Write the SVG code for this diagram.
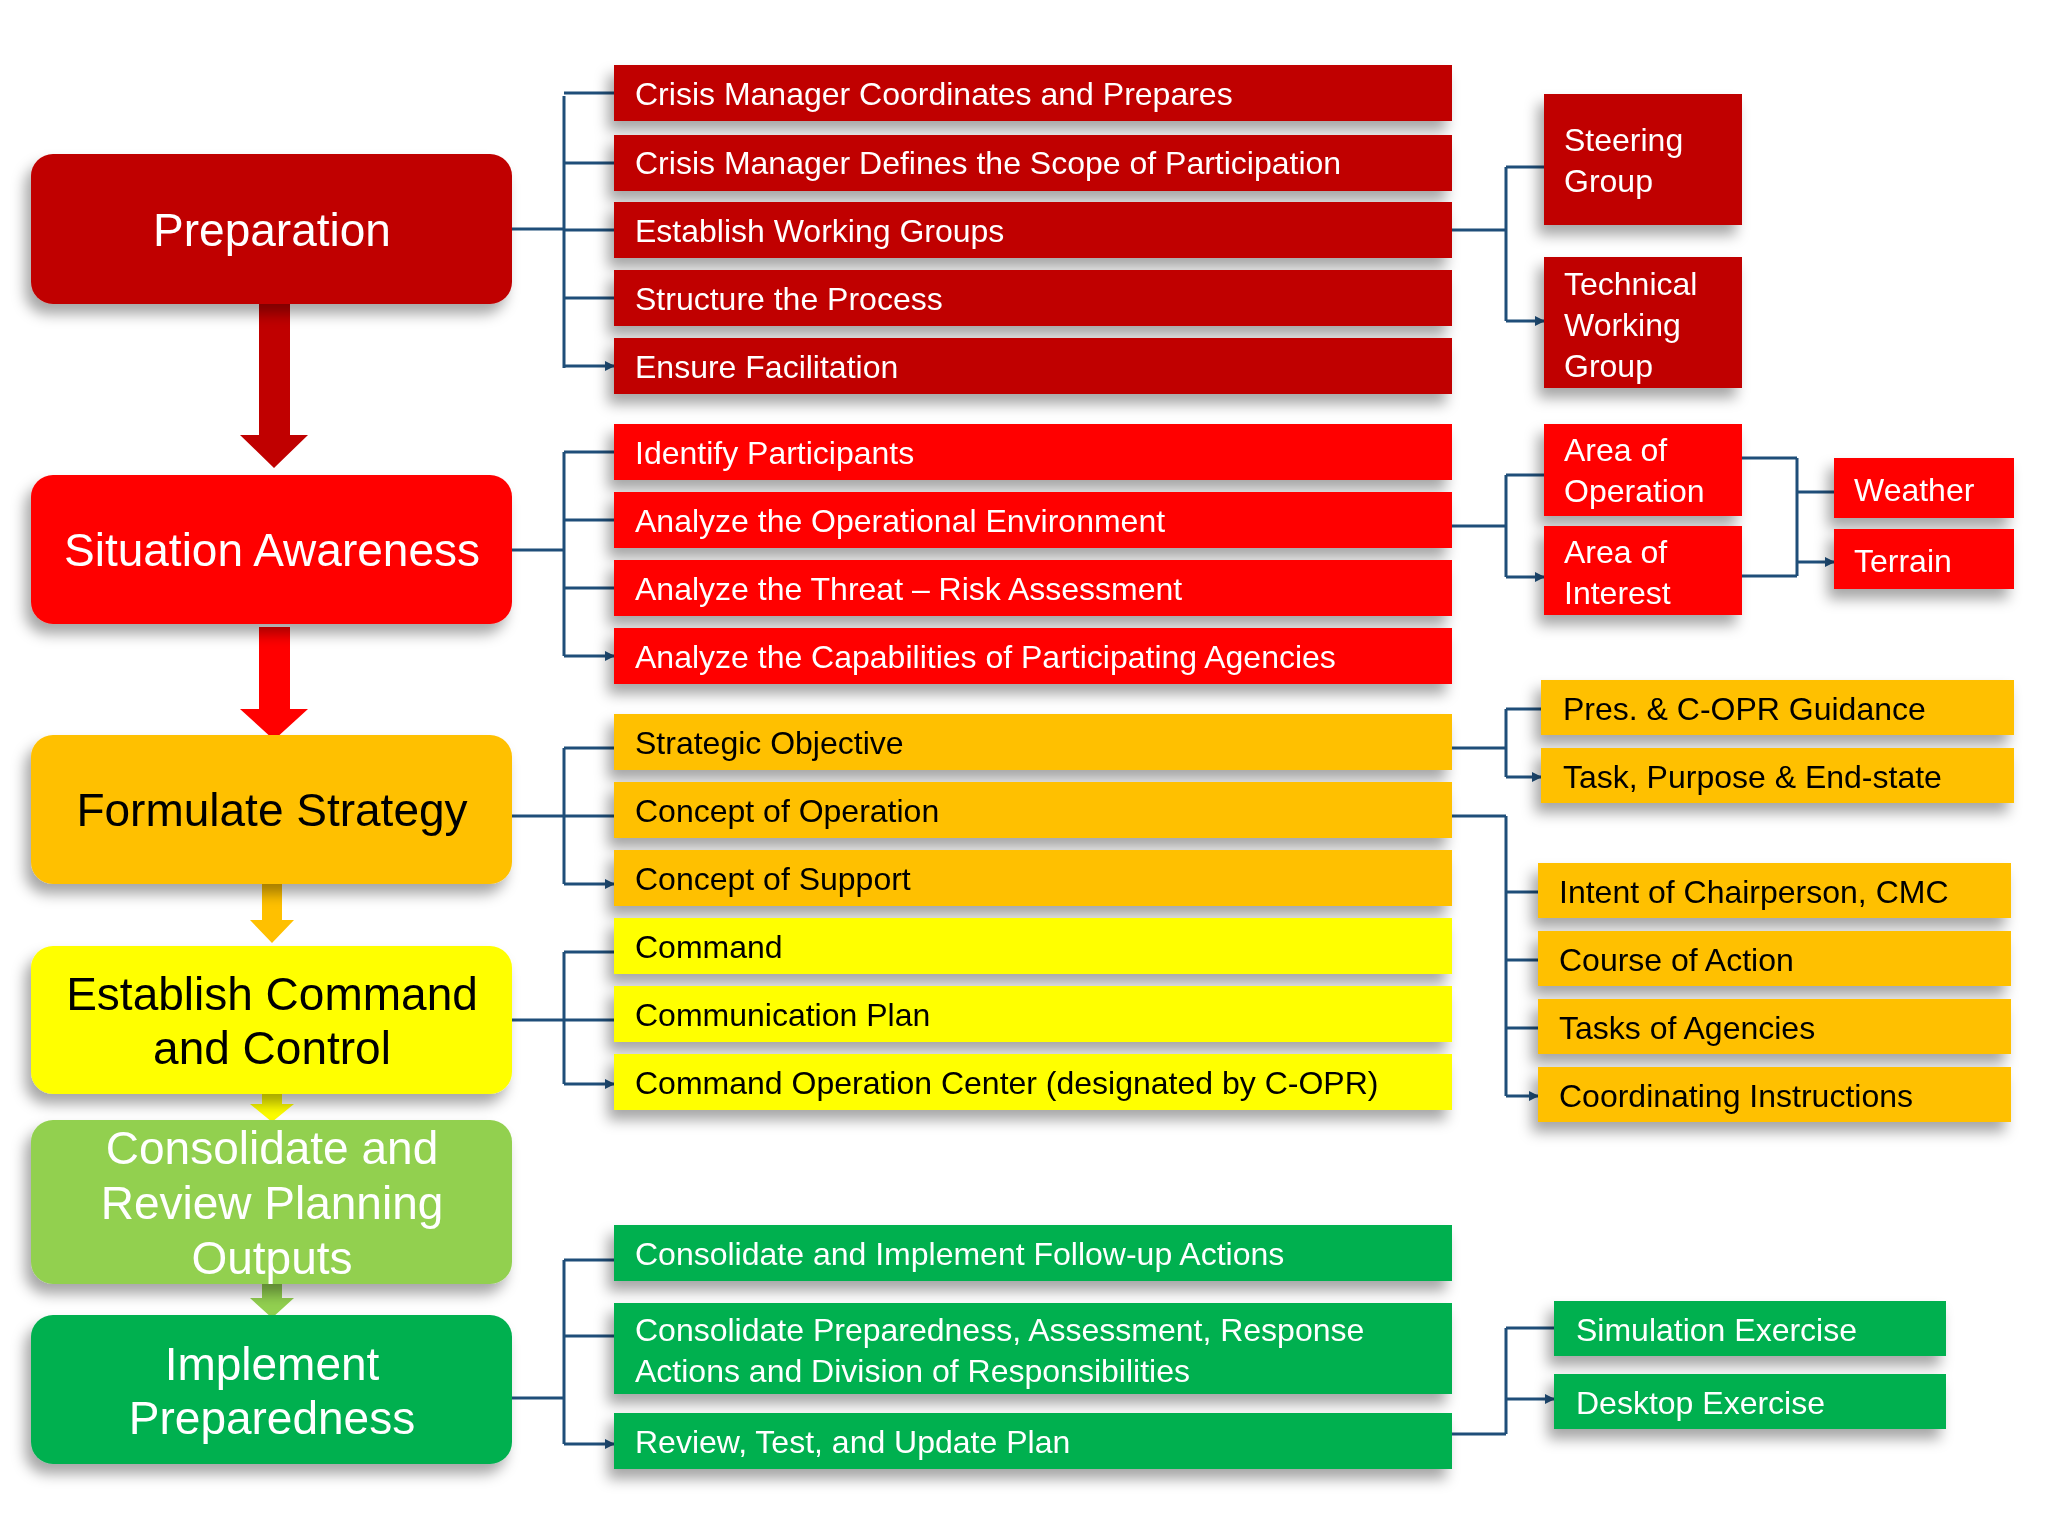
<svg xmlns="http://www.w3.org/2000/svg" width="2048" height="1536" viewBox="0 0 2048 1536">
<defs>
<filter id="sh" x="-10%" y="-20%" width="130%" height="160%"><feDropShadow dx="-6" dy="10" stdDeviation="7" flood-color="#000" flood-opacity="0.35"/></filter>
<marker id="ar" markerWidth="10" markerHeight="10" refX="9" refY="5" orient="auto" markerUnits="userSpaceOnUse"><path d="M0,0 L10,5 L0,10 z" fill="#1f4e79"/></marker>
</defs>
<style>
.t{font-family:"Liberation Sans",Arial,sans-serif;font-size:32px}
.m{font-family:"Liberation Sans",Arial,sans-serif;font-size:46px;text-anchor:middle}
.w{fill:#fff}.k{fill:#000}
.dr{fill:#C00000}.rd{fill:#FF0000}.or{fill:#FFC000}.ye{fill:#FFFF00}.lg{fill:#92D050}.gr{fill:#00B050}
.c{fill:none;stroke:#1f4e79;stroke-width:3}
.a{fill:none;stroke:#1f4e79;stroke-width:3;marker-end:url(#ar)}
</style>
<rect width="2048" height="1536" fill="#fff"/>
<g id="downarrows">
<polygon class="dr" points="259,304 290,304 290,435 308,435 274,468 240,435 259,435"/>
<polygon class="rd" points="259,627 290,627 290,709 308,709 274,740 240,709 259,709"/>
<polygon class="or" points="262,884 282,884 282,920 294,920 272,943 250,920 262,920"/>
<polygon class="ye" points="262,1094 282,1094 282,1104 294,1104 272,1122 250,1104 262,1104"/>
<polygon class="lg" points="262,1284 282,1284 282,1298 294,1298 272,1318 250,1298 262,1298"/>
</g>
<g id="connectors">
<path class="c" d="M512,229 H564 M564,96 V368"/>
<path class="a" d="M564,93 H614 M564,163 H614 M564,230 H614 M564,298 H614 M564,366 H614"/>
<path class="c" d="M512,550 H564 M564,452 V656"/>
<path class="a" d="M564,452 H614 M564,520 H614 M564,588 H614 M564,656 H614"/>
<path class="c" d="M512,816 H564 M564,748 V884"/>
<path class="a" d="M564,748 H614 M564,816 H614 M564,884 H614"/>
<path class="c" d="M512,1020 H564 M564,952 V1084"/>
<path class="a" d="M564,952 H614 M564,1020 H614 M564,1084 H614"/>
<path class="c" d="M512,1398 H564 M564,1260 V1444"/>
<path class="a" d="M564,1260 H614 M564,1336 H614 M564,1444 H614"/>
<path class="c" d="M1452,230 H1506 M1506,167 V321"/>
<path class="a" d="M1506,167 H1544 M1506,321 H1544"/>
<path class="c" d="M1452,526 H1506 M1506,475 V577"/>
<path class="a" d="M1506,475 H1544 M1506,577 H1544"/>
<path class="c" d="M1742,458 H1797 M1742,576 H1797 M1797,458 V576"/>
<path class="a" d="M1797,492 H1834 M1797,562 H1834"/>
<path class="c" d="M1452,748 H1506 M1506,709 V777"/>
<path class="a" d="M1506,709 H1541 M1506,777 H1541"/>
<path class="c" d="M1452,816 H1506 M1506,816 V1096"/>
<path class="a" d="M1506,892 H1538 M1506,960 H1538 M1506,1028 H1538 M1506,1096 H1538"/>
<path class="c" d="M1452,1434 H1506 M1506,1328 V1434"/>
<path class="a" d="M1506,1328 H1554 M1506,1399 H1554"/>
</g>
<g id="n-prep" filter="url(#sh)"><rect class="dr" x="31" y="154" width="481" height="150" rx="22"/><text class="m w" x="272" y="246">Preparation</text></g>
<g id="n-sit" filter="url(#sh)"><rect class="rd" x="31" y="475" width="481" height="149" rx="22"/><text class="m w" x="272" y="566">Situation Awareness</text></g>
<g id="n-form" filter="url(#sh)"><rect class="or" x="31" y="735" width="481" height="149" rx="22"/><text class="m k" x="272" y="826">Formulate Strategy</text></g>
<g id="n-est" filter="url(#sh)"><rect class="ye" x="31" y="946" width="481" height="148" rx="22"/><text class="m k" x="272" y="1010">Establish Command</text><text class="m k" x="272" y="1064">and Control</text></g>
<g id="n-cons" filter="url(#sh)"><rect class="lg" x="31" y="1120" width="481" height="164" rx="22"/><text class="m w" x="272" y="1164">Consolidate and</text><text class="m w" x="272" y="1219">Review Planning</text><text class="m w" x="272" y="1274">Outputs</text></g>
<g id="n-impl" filter="url(#sh)"><rect class="gr" x="31" y="1315" width="481" height="149" rx="22"/><text class="m w" x="272" y="1380">Implement</text><text class="m w" x="272" y="1434">Preparedness</text></g>
<g filter="url(#sh)">
<g id="b1"><rect class="dr" x="614" y="65" width="838" height="56"/><text class="t w" x="635" y="105">Crisis Manager  Coordinates and Prepares</text></g>
<g id="b2"><rect class="dr" x="614" y="135" width="838" height="56"/><text class="t w" x="635" y="174">Crisis Manager  Defines the Scope of Participation</text></g>
<g id="b3"><rect class="dr" x="614" y="202" width="838" height="56"/><text class="t w" x="635" y="242">Establish Working Groups</text></g>
<g id="b4"><rect class="dr" x="614" y="270" width="838" height="56"/><text class="t w" x="635" y="310">Structure the Process</text></g>
<g id="b5"><rect class="dr" x="614" y="338" width="838" height="56"/><text class="t w" x="635" y="378">Ensure Facilitation</text></g>
<g id="b6"><rect class="rd" x="614" y="424" width="838" height="56"/><text class="t w" x="635" y="464">Identify Participants</text></g>
<g id="b7"><rect class="rd" x="614" y="492" width="838" height="56"/><text class="t w" x="635" y="532">Analyze the Operational Environment</text></g>
<g id="b8"><rect class="rd" x="614" y="560" width="838" height="56"/><text class="t w" x="635" y="600">Analyze the Threat – Risk Assessment</text></g>
<g id="b9"><rect class="rd" x="614" y="628" width="838" height="56"/><text class="t w" x="635" y="668">Analyze the Capabilities of Participating Agencies</text></g>
<g id="b10"><rect class="or" x="614" y="714" width="838" height="56"/><text class="t k" x="635" y="754">Strategic Objective</text></g>
<g id="b11"><rect class="or" x="614" y="782" width="838" height="56"/><text class="t k" x="635" y="822">Concept of Operation</text></g>
<g id="b12"><rect class="or" x="614" y="850" width="838" height="56"/><text class="t k" x="635" y="890">Concept of Support</text></g>
<g id="b13"><rect class="ye" x="614" y="918" width="838" height="56"/><text class="t k" x="635" y="958">Command</text></g>
<g id="b14"><rect class="ye" x="614" y="986" width="838" height="56"/><text class="t k" x="635" y="1026">Communication Plan</text></g>
<g id="b15"><rect class="ye" x="614" y="1054" width="838" height="56"/><text class="t k" x="635" y="1094">Command Operation Center (designated by C-OPR)</text></g>
<g id="b16"><rect class="gr" x="614" y="1225" width="838" height="56"/><text class="t w" x="635" y="1265">Consolidate and Implement Follow-up Actions</text></g>
<g id="b17"><rect class="gr" x="614" y="1303" width="838" height="91"/><text class="t w" x="635" y="1341">Consolidate Preparedness, Assessment, Response</text><text class="t w" x="635" y="1382">Actions and Division of Responsibilities</text></g>
<g id="b18"><rect class="gr" x="614" y="1413" width="838" height="56"/><text class="t w" x="635" y="1453">Review, Test, and Update Plan</text></g>
<g id="r1"><rect class="dr" x="1544" y="94" width="198" height="131"/><text class="t w" x="1564" y="151">Steering</text><text class="t w" x="1564" y="192">Group</text></g>
<g id="r2"><rect class="dr" x="1544" y="257" width="198" height="131"/><text class="t w" x="1564" y="295">Technical</text><text class="t w" x="1564" y="336">Working</text><text class="t w" x="1564" y="377">Group</text></g>
<g id="r3"><rect class="rd" x="1544" y="424" width="198" height="92"/><text class="t w" x="1564" y="461">Area of</text><text class="t w" x="1564" y="502">Operation</text></g>
<g id="r4"><rect class="rd" x="1544" y="526" width="198" height="89"/><text class="t w" x="1564" y="563">Area of</text><text class="t w" x="1564" y="604">Interest</text></g>
<g id="r5"><rect class="rd" x="1834" y="458" width="180" height="60"/><text class="t w" x="1854" y="501">Weather</text></g>
<g id="r6"><rect class="rd" x="1834" y="529" width="180" height="60"/><text class="t w" x="1854" y="572">Terrain</text></g>
<g id="r7"><rect class="or" x="1541" y="680" width="473" height="55"/><text class="t k" x="1563" y="720">Pres. &amp; C-OPR Guidance</text></g>
<g id="r8"><rect class="or" x="1541" y="748" width="473" height="55"/><text class="t k" x="1563" y="788">Task, Purpose &amp; End-state</text></g>
<g id="r9"><rect class="or" x="1538" y="863" width="473" height="55"/><text class="t k" x="1559" y="903">Intent of Chairperson, CMC</text></g>
<g id="r10"><rect class="or" x="1538" y="931" width="473" height="55"/><text class="t k" x="1559" y="971">Course of Action</text></g>
<g id="r11"><rect class="or" x="1538" y="999" width="473" height="55"/><text class="t k" x="1559" y="1039">Tasks of Agencies</text></g>
<g id="r12"><rect class="or" x="1538" y="1067" width="473" height="55"/><text class="t k" x="1559" y="1107">Coordinating Instructions</text></g>
<g id="r13"><rect class="gr" x="1554" y="1301" width="392" height="55"/><text class="t w" x="1576" y="1341">Simulation Exercise</text></g>
<g id="r14"><rect class="gr" x="1554" y="1374" width="392" height="55"/><text class="t w" x="1576" y="1414">Desktop Exercise</text></g>
</g>
</svg>
